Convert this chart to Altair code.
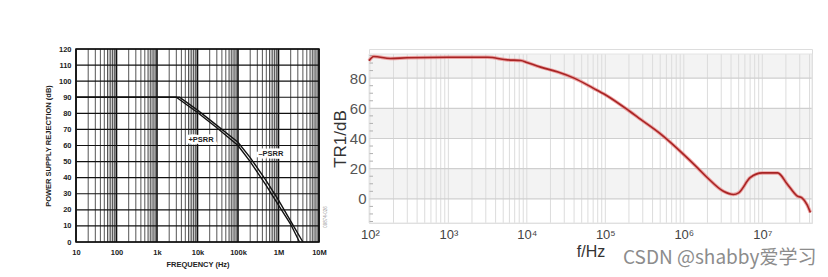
import altair as alt
import pandas as pd

# ---------------- Left chart data (PSRR vs frequency) ----------------
psrr_plus_freq = [10, 3000, 10000, 30000, 100000, 200000, 500000, 1000000, 2000000, 3300000]
psrr_plus_db = [90, 90, 80.5, 71, 60, 50, 35, 23, 11, 0]
psrr_minus_freq = [10, 3600, 10000, 30000, 100000, 200000, 500000, 1000000, 2000000, 4000000]
psrr_minus_db = [90, 90, 82, 72.5, 62, 52.5, 38, 26, 13, 0]

left_x_ticks = [10, 100, 1000, 10000, 100000, 1000000, 10000000]
left_x_labels = ["10", "100", "1k", "10k", "100k", "1M", "10M"]
left_y_ticks = [0, 10, 20, 30, 40, 50, 60, 70, 80, 90, 100, 110, 120]
left_decades = [10, 100, 1000, 10000, 100000, 1000000]
left_multipliers = [2, 3, 4, 5, 6, 7, 8, 9]
left_label_text = ["+PSRR", "\u2013PSRR"]
left_label_freq = [12200, 650000]
left_label_db = [63.7, 55]

# ---------------- Right chart data (TR1 vs frequency) ----------------
tr1_freq = [97.5, 112, 183, 300, 1000, 3170, 5700, 8400, 10000, 15000, 25000, 40000,
            70000, 100000, 200000, 285000, 500000, 1000000, 1500000, 2000000, 3200000,
            4300000, 5000000, 7000000, 10000000, 15700000, 21000000, 28000000, 32000000,
            37000000, 41000000]
tr1_db = [91.5, 94.3, 93.0, 93.5, 93.8, 93.8, 92.1, 91.7, 90.4, 87.3, 84.0, 80.0,
          73.4, 69.0, 58.4, 52.5, 43.2, 29.3, 20.5, 14.0, 5.0,
          2.9, 4.0, 14.0, 17.2, 17.2, 9.5, 1.8, 0.7,
          -3.7, -9.0]
right_x_ticks = [100, 1000, 10000, 100000, 1000000, 10000000]
right_decades = [100, 1000, 10000, 100000, 1000000, 10000000]
right_multipliers = [1, 2, 3, 4, 5, 6, 7, 8, 9]
right_y_ticks = [0, 20, 40, 60, 80]
right_minor_y = [-15, -10, -5, 5, 10, 15, 25, 30, 35, 45, 50, 55, 65, 70, 75, 85, 90, 95]
band_lo = [80, 40, 0]
band_hi = [96, 60, 20]

FONT = "Liberation Sans"
W_L, H_L = 243, 193
W_R, H_R = 443, 174

# ---------------- Left chart ----------------
xs_l = alt.Scale(type="log", domain=[10, 10000000], nice=False)
ys_l = alt.Scale(domain=[0, 120], nice=False)
lab_map = "{" + ",".join(f"'{v}':'{l}'" for v, l in zip(left_x_ticks, left_x_labels)) + "}[''+datum.value]"
x_axis_l = alt.Axis(values=left_x_ticks, labelExpr=lab_map, grid=False, domain=False, ticks=False,
                    labelFlush=False, labelOverlap=False,
                    labelFont=FONT, labelFontSize=7.5, labelFontWeight="bold", labelColor="#222",
                    labelPadding=6, title="FREQUENCY (Hz)", titleFont=FONT, titleFontSize=7.5,
                    titleFontWeight="bold", titleColor="#222", titlePadding=5)
y_axis_l = alt.Axis(values=left_y_ticks, grid=False, domain=False, ticks=False,
                    labelFlush=False, labelOverlap=False,
                    labelFont=FONT, labelFontSize=7.5, labelFontWeight="bold", labelColor="#222",
                    labelPadding=5, minExtent=17, maxExtent=17,
                    title="POWER SUPPLY REJECTION (dB)", titleFont=FONT, titleFontSize=7.5,
                    titleFontWeight="bold", titleColor="#222", titlePadding=7)

def XL(field="f"):
    return alt.X(f"{field}:Q", scale=xs_l, axis=x_axis_l)

def YL(field="db"):
    return alt.Y(f"{field}:Q", scale=ys_l, axis=y_axis_l)

minor_l = [d * m for d in left_decades for m in left_multipliers]
band_l = pd.DataFrame({"f": [d * 6 for d in left_decades], "f2": [d * 10 for d in left_decades]})
df_minor_l = pd.DataFrame({"f": minor_l})
df_dec_l = pd.DataFrame({"f": left_x_ticks})
df_hgrid_l = pd.DataFrame({"db": left_y_ticks})
df_lines_l = pd.concat([
    pd.DataFrame({"f": psrr_plus_freq, "db": psrr_plus_db, "s": "plus"}),
    pd.DataFrame({"f": psrr_minus_freq, "db": psrr_minus_db, "s": "minus"}),
])
df_lab_l = pd.DataFrame({"f": left_label_freq, "db": left_label_db, "t": left_label_text})
one = pd.DataFrame({"a": [0]})

l_bands = alt.Chart(band_l).mark_rect(fill="#cdcdcd").encode(
    x=XL(), x2="f2:Q", y=alt.value(0), y2=alt.value(H_L))
l_minor = alt.Chart(df_minor_l).mark_rule(color="#555", strokeWidth=1).encode(x=XL())
l_dec = alt.Chart(df_dec_l).mark_rule(color="#111", strokeWidth=1.6).encode(x=XL())
l_hgrid = alt.Chart(df_hgrid_l).mark_rule(color="#111", strokeWidth=1.1).encode(y=YL())
l_lines = alt.Chart(df_lines_l).mark_line(color="#111", strokeWidth=1.4).encode(
    x=XL(), y=YL(), detail="s:N")
l_halo = alt.Chart(df_lab_l).mark_text(font=FONT, fontSize=7.5, fontWeight="bold",
                                       stroke="white", strokeWidth=5, fill="white").encode(
    x=XL(), y=YL(), text="t:N")
l_text = alt.Chart(df_lab_l).mark_text(font=FONT, fontSize=7.5, fontWeight="bold", color="#222").encode(
    x=XL(), y=YL(), text="t:N")
l_border = alt.Chart(one).mark_rect(fillOpacity=0, stroke="#111", strokeWidth=1.5).encode(
    x=alt.value(0), x2=alt.value(W_L), y=alt.value(0), y2=alt.value(H_L))
l_code = alt.Chart(pd.DataFrame({"t": ["09874-026"]})).mark_text(
    font=FONT, fontSize=4.5, color="#999", angle=270).encode(
    x=alt.value(W_L + 7), y=alt.value(H_L - 25), text="t:N")

left = alt.layer(l_bands, l_minor, l_dec, l_hgrid, l_lines, l_halo, l_text, l_border, l_code).properties(
    width=W_L, height=H_L)

# ---------------- Right chart ----------------
xs_r = alt.Scale(type="log", domain=[97.5, 43000000], nice=False)
ys_r = alt.Scale(domain=[-16, 96], nice=False, range=[H_R, 5])
sup = "{'2':'\u00b2','3':'\u00b3','4':'\u2074','5':'\u2075','6':'\u2076','7':'\u2077'}"
x_axis_r = alt.Axis(values=right_x_ticks,
                    labelExpr="'10' + " + sup + "[''+round(log(datum.value)/LN10)]",
                    labelFlush=False, labelOverlap=False,
                    grid=False, domain=False, ticks=False, labelFont=FONT, labelFontSize=13,
                    labelColor="#444", labelPadding=5, title="f/Hz", titleFont=FONT,
                    titleFontSize=16, titleFontWeight="normal", titleColor="#333", titlePadding=2)
y_axis_r = alt.Axis(values=right_y_ticks, grid=False, domain=False, ticks=False,
                    labelFlush=False, labelOverlap=False,
                    labelFont=FONT, labelFontSize=15, labelColor="#555", labelPadding=3,
                    minExtent=18, maxExtent=18, title="TR1/dB", titleFont=FONT, titleFontSize=17,
                    titleFontWeight="normal", titleColor="#333", titlePadding=2)

def XR(field="f"):
    return alt.X(f"{field}:Q", scale=xs_r, axis=x_axis_r)

def YR(field="db"):
    return alt.Y(f"{field}:Q", scale=ys_r, axis=y_axis_r)

minor_r = [d * m for d in right_decades for m in right_multipliers if d * m <= 43000000]
df_minor_r = pd.DataFrame({"f": minor_r})
df_bands_r = pd.DataFrame({"db": band_lo, "db2": band_hi})
df_hgrid_r = pd.DataFrame({"db": right_y_ticks})
df_mtick_r = pd.DataFrame({"db": right_minor_y})
df_tr1 = pd.DataFrame({"f": tr1_freq, "db": tr1_db})

r_bands = alt.Chart(df_bands_r).mark_rect(fill="#f3f3f3").encode(
    y=YR(), y2="db2:Q", x=alt.value(0), x2=alt.value(W_R))
r_minor = alt.Chart(df_minor_r).mark_rule(color="#dcdcdc", strokeWidth=1).encode(
    x=XR(), y=alt.value(5), y2=alt.value(H_R))
r_hgrid = alt.Chart(df_hgrid_r).mark_rule(color="#cfcfcf", strokeWidth=1.2).encode(y=YR())
r_mtick = alt.Chart(df_mtick_r).mark_rule(color="#b0b0b0", strokeWidth=1).encode(
    y=YR(), x=alt.value(0), x2=alt.value(4))
r_border = alt.Chart(one).mark_rect(fillOpacity=0, stroke="#e4e4e4", strokeWidth=1).encode(
    x=alt.value(0), x2=alt.value(W_R), y=alt.value(5), y2=alt.value(H_R))
r_halo = alt.Chart(df_tr1).mark_line(color="#e88080", strokeWidth=3.5, opacity=0.7,
                                     interpolate="monotone").encode(x=XR(), y=YR())
r_line = alt.Chart(df_tr1).mark_line(color="#a82424", strokeWidth=1.6,
                                     interpolate="monotone").encode(x=XR(), y=YR())
r_mark = alt.Chart(pd.DataFrame({"t": ["CSDN @shabby\u7231\u5b66\u4e60"]})).mark_text(
    font="Noto Sans CJK SC", fontSize=19, color="#8c8c8c", align="left", baseline="middle").encode(
    x=alt.value(254), y=alt.value(209), text="t:N")

right = alt.layer(r_bands, r_minor, r_hgrid, r_mtick, r_border, r_halo, r_line, r_mark).properties(
    width=W_R, height=H_R)

chart = alt.hconcat(left, right, spacing=50, bounds="flush").properties(
    padding={"left": 43, "top": 44, "right": 0, "bottom": 0}
).configure_view(stroke=None).configure(background="white")

chart.save("out.html", embed_options={"renderer": "svg", "actions": False})
